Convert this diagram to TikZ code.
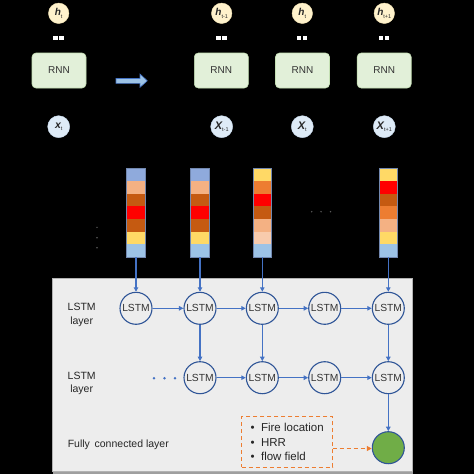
\documentclass[tikz,border=0pt]{standalone}
\usepackage{fontspec}
\setmainfont{Liberation Sans}
\usetikzlibrary{arrows.meta}
\definecolor{rnnf}{HTML}{E2F0D9}
\definecolor{rnnb}{HTML}{C5E0B4}
\definecolor{hfill}{HTML}{FFF2CC}
\definecolor{hdraw}{HTML}{F2E3B3}
\definecolor{xfill}{HTML}{DEEBF7}
\definecolor{xdraw}{HTML}{C9DCF0}
\definecolor{panel}{HTML}{EDEDED}
\definecolor{fblue}{HTML}{4472C4}
\definecolor{ldraw}{HTML}{2F5597}
\definecolor{forange}{HTML}{ED7D31}
\definecolor{fgreen}{HTML}{70AD47}
\definecolor{cA}{HTML}{8FAADC}
\definecolor{cB}{HTML}{F4B183}
\definecolor{cC}{HTML}{C55A11}
\definecolor{cD}{HTML}{FF0000}
\definecolor{cE}{HTML}{FFD966}
\definecolor{cF}{HTML}{9DC3E6}
\definecolor{cG}{HTML}{ED7D31}
\definecolor{cH}{HTML}{F8CBAD}
\definecolor{dotg}{HTML}{5A5A5A}
\newcommand\hlab[1]{{\fontsize{10}{12}\selectfont\bfseries\itshape h}\raisebox{-0.45ex}{\fontsize{5.5}{6}\selectfont #1}}
\newcommand\xlab[1]{{\fontsize{11}{12}\selectfont\bfseries\itshape X}\raisebox{-0.45ex}{\fontsize{5.5}{6}\selectfont #1}}
\begin{document}
\begin{tikzpicture}[x=1pt,y=-1pt,
  rnn/.style={draw=rnnb, fill=rnnf, rounded corners=4pt, minimum width=54pt, minimum height=35pt, font=\fontsize{10}{12}\selectfont, line width=0.6pt, text=black!80},
  hc/.style={circle, fill=hfill, draw=hdraw, minimum size=20.5pt, inner sep=0pt, text=black!85},
  xc/.style={circle, fill=xfill, draw=xdraw, minimum size=22pt, inner sep=0pt, text=black!85},
  lstm/.style={circle, draw=ldraw, line width=1.1pt, fill=panel, minimum size=32pt, inner sep=0pt, font=\fontsize{10.3}{12}\selectfont, text=black!80},
  flow/.style={draw=fblue, line width=1.1pt, -{Triangle[width=4.5pt,length=4.5pt]}},
  lab/.style={align=center, font=\fontsize{10.5}{13.3}\selectfont, text=black!85},
  barbox/.style={draw=cA!80!black, line width=0.6pt, minimum width=18.5pt, minimum height=88.5pt, inner sep=0pt},
  sq/.style={fill=white}
]
\useasboundingbox (0,0) rectangle (474,474);
\fill[black] (0,0) rectangle (474,474);

% ---------- top RNN part ----------
\node[hc] (h0) at (58.7,13.3) {\hlab{t}};
\node[hc] (h1) at (221.7,13.3) {\hlab{t-1}};
\node[hc] (h2) at (302.3,13.3) {\hlab{t}};
\node[hc] (h3) at (384.3,13.3) {\hlab{t+1}};
\foreach \x in {58.7,221.7,302.3,384.3}{
  \fill[sq] (\x-5.4,36) rectangle (\x-1.0,40.3);
  \fill[sq] (\x+0.4,36) rectangle (\x+4.8,40.3);
}
\node[rnn] (r0) at (59,70.5) {RNN};
\node[rnn] (r1) at (221.3,70.5) {RNN};
\node[rnn] (r2) at (302.5,70.5) {RNN};
\node[rnn] (r3) at (384.2,70.5) {RNN};
\node[xc] (x0) at (58.7,126.7) {{\fontsize{10.5}{12}\selectfont\bfseries\itshape x}\raisebox{-0.45ex}{\fontsize{5.5}{6}\selectfont t}};
\node[xc] (x1) at (221.7,126.7) {\xlab{t-1}};
\node[xc] (x2) at (302.3,126.7) {\xlab{t}};
\node[xc] (x3) at (384.3,126.7) {\xlab{t+1}};
% block arrow
\draw[fill=cF, draw=fblue, line width=0.6pt]
  (116,78.5) -- (140,78.5) -- (140,74) -- (147.3,80.8) -- (140,87.3) -- (140,83.3) -- (116,83.3) -- cycle;

% ---------- colour bars ----------
\newcommand\segbar[2]{%
  \foreach \c [count=\i from 0] in {#2}
    \fill[\c] (#1-9.25,168.5+\i*12.643) rectangle ++(18.5,12.643);}
\segbar{136}{cA,cB,cC,cD,cC,cE,cF}
\segbar{200}{cA,cB,cC,cD,cC,cE,cF}
\segbar{262.3}{cE,cG,cD,cC,cB,cH,cF}
\segbar{388.3}{cE,cD,cC,cG,cB,cE,cF}
\node[barbox] (b1) at (136,212.75) {};
\node[barbox] (b2) at (200,212.75) {};
\node[barbox] (b3) at (262.3,212.75) {};
\node[barbox] (b4) at (388.3,212.75) {};
% faint dots
\foreach \y in {227.3,237.7,247.7} \fill[dotg] (97,\y) circle (0.8);
\foreach \x in {311.7,321,330.5} \fill[dotg] (\x,211.7) circle (0.8);

% ---------- panel ----------
\draw[fill=panel, draw=gray!60, line width=0.5pt] (52.7,278.3) rectangle (412.7,471.5);
\fill[gray!75] (52.7,471.5) rectangle (412.7,474);

\node[lstm] (l11) at (136,308.3) {LSTM};
\node[lstm] (l12) at (200,308.3) {LSTM};
\node[lstm] (l13) at (262.3,308.3) {LSTM};
\node[lstm] (l14) at (324.7,308.3) {LSTM};
\node[lstm] (l15) at (388.3,308.3) {LSTM};
\node[lstm] (l22) at (200,377.7) {LSTM};
\node[lstm] (l23) at (262.3,377.7) {LSTM};
\node[lstm] (l24) at (324.7,377.7) {LSTM};
\node[lstm] (l25) at (388.3,377.7) {LSTM};
\node[circle, fill=fgreen, draw=ldraw, line width=1.1pt, minimum size=32pt, inner sep=0pt] (fc) at (388.3,447.7) {};

\node[lab] (t1) at (81.7,315) {LSTM\\layer};
\node[lab] (t2) at (81.7,383.3) {LSTM\\layer};
\node[lab, anchor=west] (t3) at (64.3,445) {Fully\, connected layer};
\foreach \x in {154,164.5,175} \fill[fblue] (\x,378.3) circle (1.4);

% connectors
\draw[flow] (b1) -- (l11);
\draw[flow] (b2) -- (l12);
\draw[flow] (b3) -- (l13);
\draw[flow] (b4) -- (l15);
\draw[flow] (l11) -- (l12);
\draw[flow] (l12) -- (l13);
\draw[flow] (l13) -- (l14);
\draw[flow] (l14) -- (l15);
\draw[flow] (l12) -- (l22);
\draw[flow] (l13) -- (l23);
\draw[flow] (l15) -- (l25);
\draw[flow] (l22) -- (l23);
\draw[flow] (l23) -- (l24);
\draw[flow] (l24) -- (l25);
\draw[flow] (l25) -- (fc);

% output box
\node[draw=forange, dashed, dash pattern=on 4pt off 3pt, line width=1.2pt, minimum width=91pt, minimum height=50.6pt, align=left, font=\fontsize{11.5}{14.2}\selectfont, text=black!85] (out) at (287.2,442)
  {\textbullet\ \ Fire location\\\textbullet\ \ HRR\\\textbullet\ \ flow field};
\coordinate (oe) at (332.7,448.5);
\draw[draw=forange, line width=1.2pt, dash pattern=on 4pt off 3pt, -{Triangle[width=5pt,length=5pt]}] (oe) -- (fc.west |- oe);
\end{tikzpicture}
\end{document}
